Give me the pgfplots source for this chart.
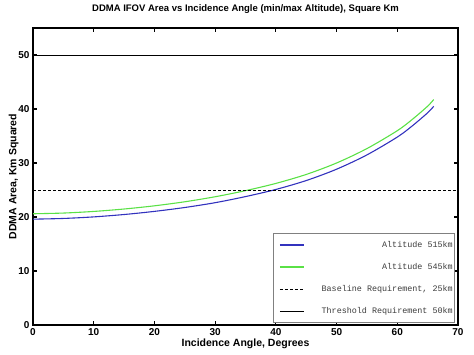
\documentclass[border=0pt]{standalone}
\usepackage{pgfplots}
\pgfplotsset{compat=1.18}
\usepackage{fontspec}
\setmainfont{Liberation Sans}
\setmonofont{Liberation Mono}

\definecolor{altlow}{RGB}{50,50,190}
\definecolor{althigh}{RGB}{90,225,70}
\definecolor{legtext}{RGB}{60,60,60}

\pgfplotstableread{
angle area
0    19.60
5    19.73
10   20.02
15   20.46
20   21.04
25   21.76
30   22.65
35   23.78
40   25.10
45   26.75
50   28.85
55   31.50
60   34.80
62.5 36.90
65   39.30
66   40.50
}\altA

\pgfplotstableread{
angle area
0    20.60
5    20.73
10   21.03
15   21.48
20   22.07
25   22.82
30   23.75
35   24.88
40   26.22
45   27.88
50   30.00
55   32.67
60   35.98
62.5 38.10
65   40.52
66   41.75
}\altB

\newcommand{\legtxt}[1]{\makebox[142bp][r]{\ttfamily\fontsize{8.4bp}{9bp}\selectfont\color{legtext}#1}}

\begin{document}
\begin{tikzpicture}
\path[use as bounding box] (-33bp,-30bp) rectangle (441bp,325bp);
\begin{axis}[
  at={(0,0)}, anchor=origin,
  scale only axis,
  width=425bp, height=297bp,
  xmin=0, xmax=70, ymin=0, ymax=55,
  xtick={0,10,...,70}, ytick={0,10,...,50},
  axis line style={line width=1.4pt},
  tick style={black, line width=1.2pt},
  major tick length=4bp,
  tick align=inside,
  /pgf/number format/assume math mode=true,
  tick label style={font=\bfseries\fontsize{10bp}{12bp}\selectfont},
  xlabel={\bfseries Incidence Angle, Degrees},
  ylabel={\bfseries DDMA Area, Km Squared},
  label style={font=\bfseries\fontsize{10.5bp}{12bp}\selectfont},
  xlabel style={at={(axis description cs:0.5,0)}, anchor=north, yshift=-10bp},
  ylabel style={at={(axis description cs:0,0.5)}, anchor=south, yshift=11bp},
  title={\bfseries DDMA IFOV Area vs Incidence Angle (min/max Altitude), Square Km},
  title style={font=\bfseries\fontsize{9.5bp}{11bp}\selectfont, at={(axis description cs:0.5,1)}, anchor=south, yshift=5bp},
  legend style={at={(axis description cs:0.993,0.007)}, anchor=south east,
    draw=gray, line width=0.6pt, fill=white,
    inner xsep=2bp, inner ysep=7.5bp, row sep=14.5bp, column sep=6bp,
    nodes={inner sep=0pt}},
  legend cell align=right,
  legend image code/.code={\path (0bp,0bp); \draw[#1] (4bp,0bp) -- (28bp,0bp);},
]
\addplot[draw=altlow, line width=1.1pt, smooth,
  legend image post style={draw=altlow, line width=1.3pt}] table[x=angle, y=area] {\altA};
\addlegendentry{\legtxt{Altitude 515km}}
\addplot[draw=althigh, line width=1.1pt, smooth,
  legend image post style={draw=althigh, line width=1.8pt}] table[x=angle, y=area] {\altB};
\addlegendentry{\legtxt{Altitude 545km}}
\addplot[draw=black, line width=0.7pt, dash pattern=on 3bp off 2bp] coordinates {(0,25) (70,25)};
\addlegendentry{\legtxt{Baseline Requirement, 25km}}
\addplot[draw=black, line width=0.7pt] coordinates {(0,50) (70,50)};
\addlegendentry{\legtxt{Threshold Requirement 50km}}
\end{axis}
\end{tikzpicture}
\end{document}
